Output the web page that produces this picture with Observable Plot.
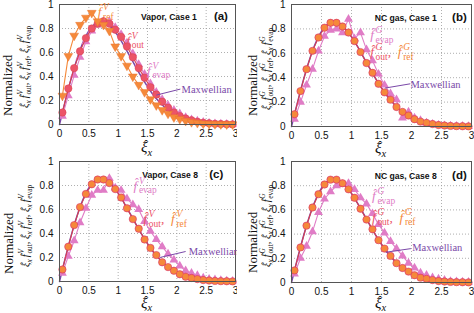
<!DOCTYPE html>
<html>
<head>
<meta charset="utf-8">
<script src="https://cdn.jsdelivr.net/npm/d3@7"></script>
<script src="https://cdn.jsdelivr.net/npm/@observablehq/plot@0.6"></script>
<style>
  html, body { margin: 0; padding: 0; background: #fff; }
  #fig { position: relative; width: 474px; height: 313px; overflow: hidden; background: #fff; }
  .panel { position: absolute; }
  .panel svg { display: block; overflow: visible; }
</style>
</head>
<body>
<div id="fig"></div>
<script>
// Bin centres of the sampled velocity distribution (ξ̂x)
const xi = [0.05, 0.15, 0.25, 0.35, 0.45, 0.55, 0.65, 0.75, 0.85, 0.95,
            1.05, 1.15, 1.25, 1.35, 1.45, 1.55, 1.65, 1.75, 1.85, 1.95,
            2.05, 2.15, 2.25, 2.35, 2.45, 2.55, 2.65, 2.75, 2.85, 2.95];

// Reference half-range Maxwellian flux
const maxwellX = [0, 0.1, 0.2, 0.3, 0.4, 0.5, 0.6, 0.7, 0.8, 0.9, 1.0,
                  1.1, 1.2, 1.3, 1.4, 1.5, 1.6, 1.7, 1.8, 1.9, 2.0,
                  2.1, 2.2, 2.3, 2.4, 2.5, 2.6, 2.7, 2.8, 2.9, 3.0];
const maxwellY = [0, 0.198, 0.384, 0.548, 0.682, 0.779, 0.837, 0.857, 0.844, 0.800, 0.736,
                  0.656, 0.569, 0.480, 0.394, 0.316, 0.246, 0.189, 0.141, 0.103, 0.073,
                  0.051, 0.035, 0.023, 0.015, 0.010, 0.006, 0.004, 0.002, 0.001, 0.001];

// (a) Vapor, Case 1
const outA  = [0.10, 0.30, 0.47, 0.61, 0.72, 0.80, 0.84, 0.86, 0.84, 0.79,
               0.73, 0.65, 0.56, 0.47, 0.39, 0.31, 0.25, 0.19, 0.14, 0.10,
               0.07, 0.05, 0.035, 0.023, 0.015, 0.010, 0.006, 0.004, 0.002, 0.001];
const refA  = [0.24, 0.57, 0.74, 0.83, 0.89, 0.93, 0.86, 0.83, 0.78, 0.65,
               0.57, 0.49, 0.40, 0.33, 0.27, 0.21, 0.16, 0.12, 0.09, 0.06,
               0.045, 0.03, 0.02, 0.013, 0.008, 0.005, 0.003, 0.002, 0.001, 0.001];
const evapA = [0.07, 0.24, 0.41, 0.56, 0.69, 0.78, 0.83, 0.86, 0.86, 0.81,
               0.75, 0.68, 0.59, 0.50, 0.42, 0.34, 0.27, 0.21, 0.16, 0.12,
               0.09, 0.06, 0.04, 0.03, 0.02, 0.012, 0.008, 0.005, 0.003, 0.002];

// (b), (c), (d): outgoing and reflected fluxes coincide
const outEq = [0.10, 0.29, 0.47, 0.62, 0.73, 0.81, 0.85, 0.85, 0.82, 0.77,
               0.70, 0.61, 0.52, 0.44, 0.35, 0.28, 0.22, 0.16, 0.12, 0.09,
               0.06, 0.04, 0.03, 0.02, 0.012, 0.008, 0.005, 0.003, 0.002, 0.001];
const evapB = [0.06, 0.20, 0.34, 0.47, 0.62, 0.74, 0.79, 0.80, 0.77, 0.88,
               0.72, 0.77, 0.63, 0.54, 0.43, 0.34, 0.27, 0.22, 0.07, 0.12,
               0.07, 0.05, 0.03, 0.02, 0.012, 0.008, 0.005, 0.003, 0.002, 0.001];
const evapC = [0.07, 0.21, 0.34, 0.49, 0.61, 0.72, 0.76, 0.76, 0.86, 0.78,
               0.76, 0.69, 0.64, 0.60, 0.50, 0.42, 0.35, 0.29, 0.23, 0.18,
               0.13, 0.09, 0.07, 0.05, 0.03, 0.02, 0.015, 0.01, 0.006, 0.004];
const evapD = [0.07, 0.20, 0.30, 0.42, 0.58, 0.69, 0.75, 0.80, 0.81, 0.82,
               0.77, 0.70, 0.65, 0.57, 0.48, 0.41, 0.34, 0.28, 0.22, 0.16,
               0.12, 0.08, 0.06, 0.04, 0.03, 0.02, 0.01, 0.008, 0.005, 0.003];

const xTicks = [0, 0.5, 1, 1.5, 2, 2.5, 3];
const yTicks = [0, 0.2, 0.4, 0.6, 0.8, 1];

const COL = {
  out: "#ec5468", outEdge: "#d8404f",
  ref: "#f5893a", refEdge: "#e8702a",
  evap: "#e07cc6",
  max: "#7a48a8",
  frame: "#555", grid: "#9a9a9a", text: "#111"
};
const SERIF = "'Liberation Serif', 'Times New Roman', serif";
const SANS = "'Liberation Sans', Arial, Helvetica, sans-serif";

const panels = [
  { left: 0, top: 0, width: 237, height: 157,
    margin: { top: 4, right: 2, bottom: 33, left: 59 },
    sp: "V", title: "Vapor, Case 1", tag: "(a)", titleAt: [2.35, 2.88, 0.865],
    out: outA, ref: refA, evap: evapA, refDown: true,
    lab: { ref: [0.66, 0.90], out: [1.15, 0.66], evap: [1.50, 0.41], max: [2.09, 0.26] },
    leader: [1.65, 0.245, 2.06, 0.295],
    ylab: { nx: 12, ny: 116, mx: 28, my: 108 }, xlabY: 152 },
  { left: 237, top: 0, width: 237, height: 157,
    margin: { top: 4, right: 3, bottom: 31, left: 54 },
    sp: "G", title: "NC gas, Case 1", tag: "(b)", titleAt: [2.43, 2.93, 0.86],
    out: outEq, ref: outEq, evap: evapB, refDown: false,
    lab: { evap: [1.32, 0.71], outref: [1.32, 0.57], max: [1.99, 0.315] },
    leader: [1.56, 0.315, 1.98, 0.35],
    ylab: { nx: 20, ny: 116, mx: 33, my: 110 }, xlabY: 153 },
  { left: 0, top: 157, width: 237, height: 156,
    margin: { top: 4, right: 2, bottom: 32, left: 59 },
    sp: "V", title: "Vapor, Case 8", tag: "(c)", titleAt: [2.37, 2.80, 0.855],
    out: outEq, ref: outEq, evap: evapC, refDown: false,
    lab: { evap: [1.27, 0.76], outref: [1.44, 0.48], max: [2.21, 0.22] },
    leader: [1.71, 0.20, 2.15, 0.25],
    ylab: { nx: 13, ny: 117, mx: 29, my: 110 }, xlabY: 150.5 },
  { left: 237, top: 157, width: 237, height: 156,
    margin: { top: 4, right: 3, bottom: 31, left: 54 },
    sp: "G", title: "NC gas, Case 8", tag: "(d)", titleAt: [2.43, 2.93, 0.855],
    out: outEq, ref: outEq, evap: evapD, refDown: false,
    lab: { evap: [1.35, 0.675], outref: [1.35, 0.50], max: [2.02, 0.26] },
    leader: [1.57, 0.25, 1.99, 0.28],
    ylab: { nx: 20, ny: 116, mx: 33, my: 110 }, xlabY: 150.5 }
];

// Writes a line of math-like text: base runs, hatted letters,
// subscripts and stacked sub/superscripts.
function rich(parent, tokens, size, color, family) {
  const text = parent.append("text")
    .attr("text-anchor", "start")
    .attr("font-size", size).attr("fill", color || COL.text)
    .attr("font-family", family || SERIF);
  let shift = 0, pending = 0;
  const put = (str, target, fs, o, dx = 0) => {
    const t = text.append("tspan")
      .attr("dy", (target - shift).toFixed(2))
      .attr("font-size", fs).text(str);
    const d = dx + pending;
    if (d) t.attr("dx", d.toFixed(2));
    pending = 0;
    if (o && o.i) t.attr("font-style", "italic");
    if (o && o.c) t.attr("fill", o.c);
    shift = target;
    return t;
  };
  for (const k of tokens) {
    if (k.t != null) put(k.t, 0, size, k);
    else if (k.hat != null) {
      const b = put(k.hat, 0, size, k);
      const w = b.node().getComputedTextLength();
      const hatSize = size * 0.85;
      const probe = text.append("tspan").attr("font-size", hatSize).text("\u02C6");
      const hw = probe.node().getComputedTextLength();
      probe.remove();
      const slant = size * 0.12;
      put("\u02C6", -size * 0.2, hatSize, { c: k.c }, -(w + hw) / 2 + slant);
      pending = (w - hw) / 2 - slant + (k.corr || 0) * size;
    }
    else if (k.sub != null) put(k.sub, size * 0.26, size * 0.7, k);
    else if (k.ss) {
      const sp = put(k.ss[1], -size * 0.45, size * 0.7, { i: true, c: k.c });
      const w = sp.node().getComputedTextLength();
      put(k.ss[0], size * 0.26, size * 0.7, { c: k.c }, -w);
    }
  }
  return text;
}

const fig = document.getElementById("fig");

for (const p of panels) {
  const rows = xi.map((x, i) => ({ x, out: p.out[i], ref: p.ref[i], evap: p.evap[i] }));
  const maxRows = maxwellX.map((x, i) => ({ x, y: maxwellY[i] }));
  const [lx1, ly1, lx2, ly2] = p.leader;

  const refMarks = p.refDown
    ? [
        Plot.line(rows, { x: "x", y: "ref", stroke: COL.ref, strokeWidth: 1.1 }),
        Plot.dot(rows, { x: "x", y: "ref", symbol: "triangle", rotate: 180, r: 3.3, fill: COL.ref, stroke: COL.refEdge, strokeWidth: 0.4 })
      ]
    : [
        Plot.dot(rows, { x: "x", y: "ref", r: 3.0, fill: COL.ref })
      ];

  const svg = Plot.plot({
    width: p.width,
    height: p.height,
    marginTop: p.margin.top,
    marginRight: p.margin.right,
    marginBottom: p.margin.bottom,
    marginLeft: p.margin.left,
    style: { fontFamily: SANS, fontSize: "10px", color: COL.text, background: "white", overflow: "visible" },
    x: { domain: [0, 3], ticks: xTicks, tickFormat: d => String(d), tickSize: 0, tickPadding: 5, label: null },
    y: { domain: [0, 1], ticks: yTicks, tickFormat: d => String(d), tickSize: 0, tickPadding: 6, label: null },
    marks: [
      Plot.ruleX(xTicks.slice(1, -1), { stroke: COL.grid, strokeDasharray: "1,2", strokeWidth: 0.8 }),
      Plot.ruleY(yTicks.slice(1, -1), { stroke: COL.grid, strokeDasharray: "1,2", strokeWidth: 0.8 }),
      Plot.line(maxRows, { x: "x", y: "y", stroke: COL.max, strokeWidth: 1.5, curve: "catmull-rom" }),
      Plot.line(rows, { x: "x", y: "evap", stroke: COL.evap, strokeWidth: 1.1 }),
      Plot.dot(rows, { x: "x", y: "evap", symbol: "triangle", r: 3.3, fill: COL.evap }),
      Plot.line(rows, { x: "x", y: "out", stroke: COL.outEdge, strokeWidth: 1.1 }),
      Plot.dot(rows, { x: "x", y: "out", r: 3.7, fill: COL.out, stroke: COL.outEdge, strokeWidth: 0.5 }),
      ...refMarks,
      Plot.link([{ x1: lx1, y1: ly1, x2: lx2, y2: ly2 }], { x1: "x1", y1: "y1", x2: "x2", y2: "y2", stroke: COL.max, strokeWidth: 1 }),
      Plot.frame({ stroke: COL.frame, strokeWidth: 1 })
    ]
  });

  const holder = document.createElement("div");
  holder.className = "panel";
  holder.style.left = p.left + "px";
  holder.style.top = p.top + "px";
  holder.appendChild(svg);
  fig.appendChild(holder);

  const sx = svg.scale("x"), sy = svg.scale("y");
  const X = v => sx.apply(v), Y = v => sy.apply(v);
  const g = d3.select(svg).append("g");
  const S = p.sp;

  // panel title and tag
  g.append("text").attr("x", X(p.titleAt[0])).attr("y", Y(p.titleAt[2]))
    .attr("text-anchor", "end").attr("font-family", SANS).attr("font-weight", "bold")
    .attr("font-size", 8.6).attr("fill", COL.text).text(p.title);
  g.append("text").attr("x", X(p.titleAt[1])).attr("y", Y(p.titleAt[2]))
    .attr("text-anchor", "end").attr("font-family", SANS).attr("font-weight", "bold")
    .attr("font-size", 11.5).attr("fill", COL.text).text(p.tag);

  // curve labels
  const LS = 13.5;
  const place = (sel, at) => sel.attr("transform", `translate(${X(at[0])},${Y(at[1])})`);
  const fh = c => ({ hat: "f", i: true, c, corr: 0.12 });
  if (p.lab.ref) place(g.append("g"), p.lab.ref).call(s => rich(s, [fh(), { ss: ["ref", S] }], LS, COL.ref));
  if (p.lab.out) place(g.append("g"), p.lab.out).call(s => rich(s, [fh(), { ss: ["out", S] }], LS, COL.out));
  if (p.lab.evap) place(g.append("g"), p.lab.evap).call(s => rich(s, [fh(), { ss: ["evap", S] }], LS, COL.evap));
  if (p.lab.outref) place(g.append("g"), p.lab.outref).call(s => rich(s, [
    fh(COL.out), { ss: ["out", S], c: COL.out }, { t: ",\u2002", c: COL.out },
    fh(COL.ref), { ss: ["ref", S], c: COL.ref }
  ], LS, COL.out));
  place(g.append("g"), p.lab.max).call(s => rich(s, [{ t: "Maxwellian" }], 10.5, COL.max));

  // x-axis title
  g.append("g").attr("transform", `translate(${X(1.5) - 6},${p.xlabY})`)
    .call(s => rich(s, [{ hat: "\u03BE", i: true }, { sub: "x", i: true }], 15, COL.text));

  // y-axis title, two rotated lines
  g.append("g").attr("transform", `translate(${p.ylab.nx},${p.ylab.ny}) rotate(-90)`)
    .call(s => rich(s, [{ t: "Normalized" }], 13, COL.text));
  const xs = [{ hat: "\u03BE", i: true }, { sub: "x", i: true }, { t: "\u2009" }, { hat: "f", i: true, corr: 0.06 }];
  g.append("g").attr("transform", `translate(${p.ylab.mx},${p.ylab.my}) rotate(-90)`)
    .call(s => rich(s, [
      ...xs, { ss: ["out", S] }, { t: ", " },
      ...xs, { ss: ["ref", S] }, { t: ", " },
      ...xs, { ss: ["evap", S] }
    ], 10.5, COL.text));
}
</script>
</body>
</html>
